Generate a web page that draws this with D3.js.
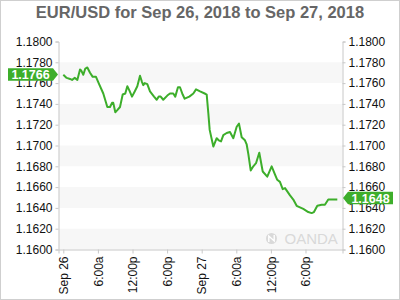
<!DOCTYPE html>
<html><head><meta charset="utf-8">
<script src="https://cdn.jsdelivr.net/npm/d3@7"></script>
<style>
html,body{margin:0;padding:0;background:#fff;}
svg{display:block;font-family:"Liberation Sans",Arial,sans-serif;}
</style></head>
<body>
<svg id="chart" width="400" height="300"></svg>
<script>
// Data: minutes after Sep 26 2018 00:00, EUR/USD rate
const minutes = [0,35,70,91,119,146,174,187,208,229,250,278,306,340,368,416,458,486,507,520,541,562,590,618,645,666,687,715,743,770,798,819,832,847,874,902,944,972,993,1013,1040,1082,1110,1144,1165,1193,1214,1242,1263,1311,1353,1381,1423,1471,1492,1509,1523,1561,1596,1617,1641,1665,1700,1734,1769,1804,1828,1856,1890,1908,1925,1950,1977,2005,2039,2075,2122,2168,2203,2226,2254,2283,2307,2359,2393,2428,2497,2549,2584,2608,2643,2688,2722,2757,2803,2851];
const rates = [1.1768,1.1765,1.1764,1.1763,1.1765,1.1763,1.1773,1.1772,1.1768,1.1774,1.1775,1.1770,1.1766,1.1766,1.1760,1.1750,1.1737,1.1737,1.1741,1.1741,1.1732,1.1734,1.1737,1.1749,1.1750,1.1757,1.1753,1.1747,1.1752,1.1757,1.1767,1.1761,1.1758,1.1760,1.1759,1.1752,1.1747,1.1744,1.1747,1.1747,1.1744,1.1748,1.1750,1.1750,1.1747,1.1756,1.1756,1.1749,1.1745,1.1747,1.1750,1.1754,1.1752,1.1750,1.1749,1.1731,1.1715,1.1699,1.1707,1.1705,1.1704,1.1710,1.1712,1.1713,1.1707,1.1718,1.1721,1.1708,1.1705,1.1701,1.1692,1.1676,1.1680,1.1683,1.1693,1.1675,1.1670,1.1680,1.1672,1.1667,1.1665,1.1658,1.1659,1.1652,1.1648,1.1642,1.1639,1.1636,1.1635,1.1636,1.1642,1.1643,1.1643,1.1648,1.1648,1.1648];
const yTicks = [1.1600,1.1620,1.1640,1.1660,1.1680,1.1700,1.1720,1.1740,1.1760,1.1780,1.1800];
const xTickMinutes = [0,360,720,1080,1440,1800,2160,2520];
const xTickLabels = ["Sep 26","6:00a","12:00p","6:00p","Sep 27","6:00a","12:00p","6:00p"];
const title = "EUR/USD for Sep 26, 2018 to Sep 27, 2018";
const openLabel = "1.1766";
const lastLabel = "1.1648";
const watermark = "OANDA";

const base = new Date(2018, 8, 26, 0, 0);
const toDate = m => new Date(base.getTime() + m * 60000);
const data = minutes.map((m, i) => ({t: toDate(m), v: rates[i]}));

const svg = d3.select("#chart");
const L = 58.5, R = 342.5, T = 41.5, B = 249.5;
const x = d3.scaleTime().domain([toDate(-50), toDate(2905)]).range([L, R]);
const y = d3.scaleLinear().domain([1.16, 1.18]).range([B, T]);
const green = "#3dae2b";

// outer frame
svg.append("rect").attr("x",0.5).attr("y",0.5).attr("width",399).attr("height",299)
  .attr("fill","#fff").attr("stroke","#cfcfcf");

// title
svg.append("text").attr("x",200).attr("y",17.5).attr("text-anchor","middle")
  .attr("font-size","16.5px").attr("font-weight","bold").attr("fill","#666").text(title);

// bands
for (let i = 0; i + 1 < yTicks.length; i += 2) {
  svg.append("rect").attr("x",L).attr("width",R-L)
    .attr("y",y(yTicks[i+1])).attr("height",y(yTicks[i])-y(yTicks[i+1]))
    .attr("fill","#f7f7f7");
}

// watermark
const wm = svg.append("g").attr("fill","#d9d9d9");
wm.append("circle").attr("cx",271.5).attr("cy",238.5).attr("r",5.5).attr("fill","#d9d9d9");
wm.append("path").attr("d","M268.8,242 L268.8,236 L274.2,241 L274.2,235").attr("fill","none").attr("stroke","#fff").attr("stroke-width",1.4);
wm.append("text").attr("x",284.5).attr("y",244).attr("font-size","15px").text(watermark);

// axes
const yFmt = d3.format(".4f");
const yl = svg.append("g").attr("transform",`translate(${L},0)`)
  .call(d3.axisLeft(y).tickValues(yTicks).tickFormat(yFmt).tickSize(3).tickPadding(3));
const yr = svg.append("g").attr("transform",`translate(${R},0)`)
  .call(d3.axisRight(y).tickValues(yTicks).tickFormat(yFmt).tickSize(3).tickPadding(3));
const xa = svg.append("g").attr("transform",`translate(0,${B})`)
  .call(d3.axisBottom(x).tickValues(xTickMinutes.map(toDate))
    .tickFormat((d,i) => xTickLabels[i]).tickSize(4));
[yl, yr, xa].forEach(g => {
  g.select(".domain").attr("stroke","#c8c8c8");
  g.selectAll(".tick line").attr("stroke","#c8c8c8");
  g.selectAll("text").attr("fill","#111").attr("font-size","12px")
    .attr("font-family","'Liberation Sans',Arial,sans-serif");
});
xa.selectAll(".tick text").attr("text-anchor","end").attr("dy","0.35em")
  .attr("y",0).attr("transform","translate(0,7) rotate(-90)");

// line
svg.append("path").datum(data)
  .attr("fill","none").attr("stroke",green).attr("stroke-width",2)
  .attr("stroke-linejoin","round")
  .attr("d", d3.line().x(d => x(d.t)).y(d => y(d.v)));

// price flags
function flag(xTip, yc, left) {
  const h = 12.5, w = 45, a = 5;
  let pts;
  if (left) {
    pts = [[xTip, yc],[xTip-a, yc-h/2],[xTip-a-w, yc-h/2],[xTip-a-w, yc+h/2],[xTip-a, yc+h/2]];
  } else {
    pts = [[xTip, yc],[xTip+a, yc-h/2],[xTip+a+w, yc-h/2],[xTip+a+w, yc+h/2],[xTip+a, yc+h/2]];
  }
  svg.append("path").attr("d","M"+pts.map(p=>p.join(",")).join("L")+"Z").attr("fill",green);
  return left ? xTip - a - w/2 : xTip + a + w/2;
}
const lc = flag(58, y(rates[0]) - 0.3, true);
svg.append("text").attr("x",lc).attr("y",y(rates[0]) - 0.3).attr("dy","0.36em")
  .attr("text-anchor","middle").attr("fill","#fff").attr("font-size","12.5px")
  .attr("font-weight","bold").text(openLabel);
const rc = flag(343, y(rates[rates.length-1]) - 1.5, false);
svg.append("text").attr("x",rc).attr("y",y(rates[rates.length-1]) - 1.5).attr("dy","0.36em")
  .attr("text-anchor","middle").attr("fill","#fff").attr("font-size","12.5px")
  .attr("font-weight","bold").text(lastLabel);
</script>
</body></html>
